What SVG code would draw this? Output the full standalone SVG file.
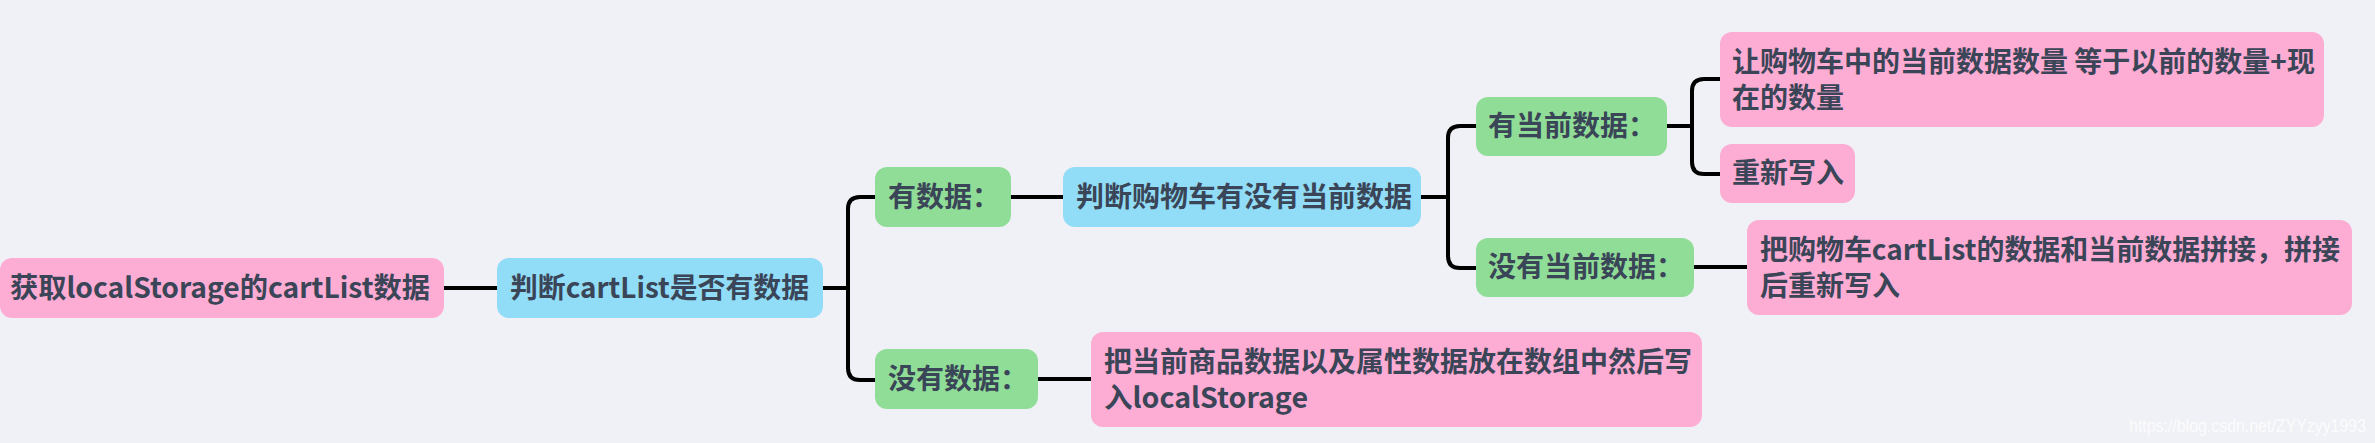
<svg xmlns="http://www.w3.org/2000/svg" width="2375" height="443" viewBox="0 0 2375 443">
<style>
.p{fill:#fdacd3}.g{fill:#90dd98}.b{fill:#91dcf6}
text{font-family:"Noto Sans CJK SC","Noto Sans",sans-serif;font-weight:bold;font-size:28px;fill:#3a4557}
.c path{fill:none;stroke:#000;stroke-width:4;stroke-linecap:round}
</style>
<rect width="2375" height="443" fill="#f0f1f6"/>
<g class="c">
<path d="M444 288H497"/>
<path d="M823 288H848M875 197H860Q848 197 848 209V368Q848 380 860 380H875"/>
<path d="M1011 197H1063M1038 379H1091"/>
<path d="M1421 197H1448M1476 126H1460Q1448 126 1448 138V256Q1448 268 1460 268H1476"/>
<path d="M1667 126H1692M1720 79H1704Q1692 79 1692 91V162Q1692 174 1704 174H1720"/>
<path d="M1694 267H1747"/>
</g>
<g id="n1"><rect class="p" x="0" y="258" width="444" height="60" rx="12"/><text x="10" y="298" textLength="420" lengthAdjust="spacingAndGlyphs">获取localStorage的cartList数据</text></g>
<g id="n2"><rect class="b" x="497" y="258" width="326" height="60" rx="12"/><text x="510" y="298" textLength="299" lengthAdjust="spacingAndGlyphs">判断cartList是否有数据</text></g>
<g id="n3"><rect class="g" x="875" y="167" width="136" height="60" rx="12"/><text x="888" y="207">有数据：</text></g>
<g id="n4"><rect class="g" x="875" y="349" width="163" height="60" rx="12"/><text x="888" y="389">没有数据：</text></g>
<g id="n5"><rect class="b" x="1063" y="167" width="358" height="60" rx="12"/><text x="1076" y="207">判断购物车有没有当前数据</text></g>
<g id="n6"><rect class="p" x="1091" y="332" width="611" height="95" rx="12"/><text x="1104" y="372">把当前商品数据以及属性数据放在数组中然后写</text><text x="1104" y="408" textLength="204" lengthAdjust="spacingAndGlyphs">入localStorage</text></g>
<g id="n7"><rect class="g" x="1476" y="97" width="191" height="59" rx="12"/><text x="1488" y="136">有当前数据：</text></g>
<g id="n8"><rect class="g" x="1476" y="238" width="218" height="59" rx="12"/><text x="1488" y="277">没有当前数据：</text></g>
<g id="n9"><rect class="p" x="1720" y="32" width="604" height="95" rx="12"/><text x="1732" y="72">让购物车中的当前数据数量 等于以前的数量+现</text><text x="1732" y="108">在的数量</text></g>
<g id="n10"><rect class="p" x="1720" y="144" width="135" height="59" rx="12"/><text x="1732" y="183">重新写入</text></g>
<g id="n11"><rect class="p" x="1747" y="220" width="605" height="95" rx="12"/><text x="1760" y="260" textLength="580" lengthAdjust="spacingAndGlyphs">把购物车cartList的数据和当前数据拼接，拼接</text><text x="1760" y="296">后重新写入</text></g>
<text x="2129" y="432" style="font-family:'Liberation Sans',sans-serif;font-weight:normal;font-size:18px;fill:#ffffff;opacity:0.8" textLength="237" lengthAdjust="spacingAndGlyphs">https://blog.csdn.net/ZYYzyy1993</text>
</svg>
